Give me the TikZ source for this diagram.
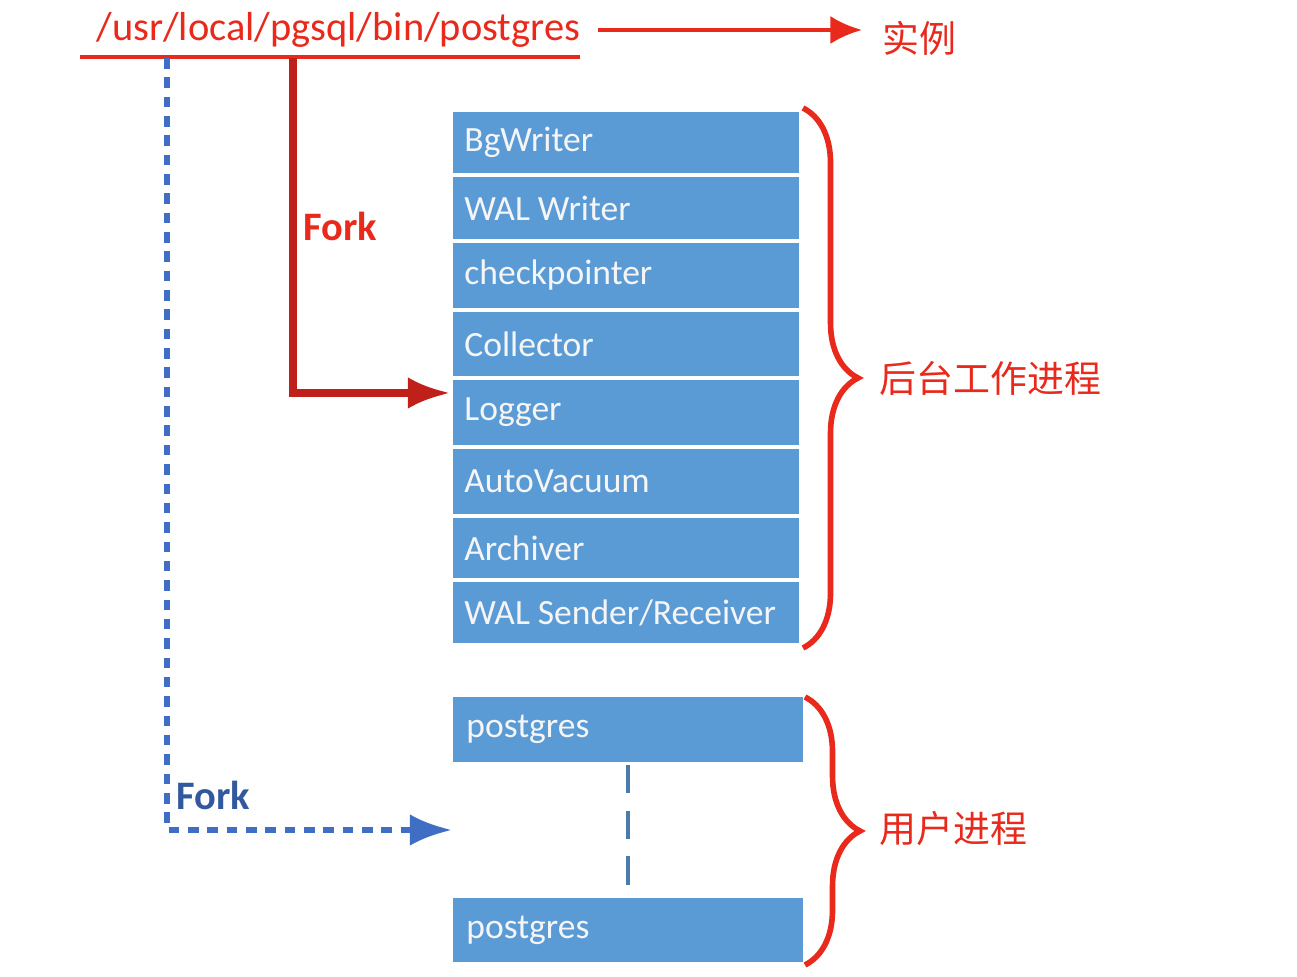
\documentclass[tikz,border=0pt]{standalone}
\usepackage{fontspec}
\setmainfont{Carlito}
\newfontfamily\cjk{Noto Sans CJK SC}
\usetikzlibrary{decorations.pathreplacing,arrows.meta}
\definecolor{boxblue}{HTML}{5B9BD5}
\definecolor{pgred}{HTML}{E8291C}
\definecolor{darkred}{HTML}{C0201A}
\definecolor{forkblue}{HTML}{3F6EC4}
\begin{document}
\begin{tikzpicture}[x=0.01cm,y=-0.01cm,
  ptxt/.style={anchor=west,text=white!96!black,font=\fontsize{10.1}{12}\selectfont},
  lab/.style={text=pgred,font=\cjk\fontsize{10.5}{12}\selectfont,anchor=west},
  brc/.style={draw=pgred,line width=1.6pt,decorate,decoration={brace,amplitude=0.55cm,raise=0pt}}]
\useasboundingbox (0,0) rectangle (1297,977);
\fill[white] (0,0) rectangle (1297,977);
\foreach \n/\t/\b/\s in {b1/110/175/{BgWriter},b2/175/241/{WAL Writer},b3/241/310/{checkpointer},b4/310/378/{Collector},b5/378/447/{Logger},b6/447/516/{AutoVacuum},b7/516/580/{Archiver},b8/580/645/{WAL Sender/Receiver}}{
  \filldraw[draw=white,line width=1.2pt,fill=boxblue] (451,\t) rectangle (801,\b);
  \node[ptxt] (\n) at (452,{(\t+\b)/2}) {\s};
}
\foreach \n/\t/\b in {p1/697/762,p2/898/962}{
  \fill[boxblue] (453,\t) rectangle (803,\b);
  \node[ptxt] (\n) at (454,{(\t+\b)/2}) {postgres};
}
\draw[boxblue!80!black,line width=1.2pt,dash pattern=on 8pt off 5pt] (628,765) -- (628,895);
\node[anchor=west,text=pgred,font=\fontsize{11.5}{14}\selectfont] (path) at (84,30) {/usr/local/pgsql/bin/postgres};
\draw[pgred,line width=1.2pt] (80,57) -- (580,57);
\coordinate (a0) at (598,30); \coordinate (a1) at (862,30);
\node[lab] (inst) at (870,38) {实例};
\draw[pgred,line width=1.2pt,-{Latex[length=9pt,width=8pt]}] (a0) -- (a1);
\coordinate (r0) at (293,58); \coordinate (r1) at (450,393);
\draw[darkred,line width=2pt,-{Latex[length=12pt,width=9pt]}] (r0) |- (r1);
\node[text=pgred,font=\bfseries\fontsize{11.5}{14}\selectfont] (fk1) at (340,226) {Fork};
\coordinate (u0) at (167,58); \coordinate (u1) at (452,830);
\draw[forkblue,line width=1.8pt,dash pattern=on 3pt off 2.5pt,-{Latex[length=12pt,width=9pt]}] (u0) |- (u1);
\node[text=forkblue!80!black,font=\bfseries\fontsize{11.5}{14}\selectfont] (fk2) at (213,795) {Fork};
\draw[brc] (803,108) -- (803,648);
\draw[brc] (805,697) -- (805,965);
\node[lab] (bg) at (867,378) {后台工作进程};
\node[lab] (us) at (867,828) {用户进程};
\end{tikzpicture}
\end{document}
